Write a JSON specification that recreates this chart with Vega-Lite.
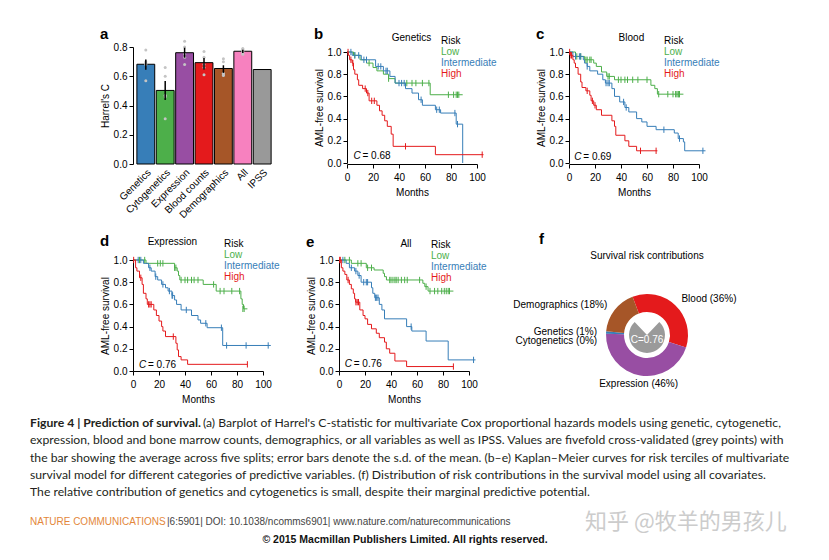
{
"$schema": "https://vega.github.io/schema/vega-lite/v6.json",
"background": "white",
"padding": {"left": 30, "top": 26, "right": 2, "bottom": 2},
"config": {
 "font": "Liberation Sans",
 "view": {"stroke": null},
 "axis": {"labelFontSize": 10, "titleFontSize": 10, "titleFontWeight": "normal", "labelColor": "#000", "titleColor": "#000", "domainColor": "#000", "tickColor": "#000", "grid": false, "tickSize": 4, "labelPadding": 2, "titlePadding": 3, "labelFont": "Liberation Sans", "titleFont": "Liberation Sans", "labelOverlap": false, "labelFlush": false},
 "title": {"fontSize": 15, "fontWeight": "bold", "anchor": "start", "frame": "bounds", "color": "#000", "offset": 0, "font": "Liberation Sans"},
 "text": {"color": "#000", "font": "Liberation Sans", "fontSize": 10}
},
"datasets": {
 "a_bars": [
  {"cat":"Genetics","c":0.682,"lo":0.645,"hi":0.714},
  {"cat":"Cytogenetics","c":0.503,"lo":0.437,"hi":0.567},
  {"cat":"Expression","c":0.761,"lo":0.727,"hi":0.795},
  {"cat":"Blood counts","c":0.693,"lo":0.646,"hi":0.725},
  {"cat":"Demographics","c":0.653,"lo":0.623,"hi":0.675},
  {"cat":"All","c":0.771,"lo":0.759,"hi":0.782},
  {"cat":"IPSS","c":0.646}
 ],
 "a_pts": [
  {"cat":"Genetics","v":0.78},{"cat":"Genetics","v":0.70},{"cat":"Genetics","v":0.69},{"cat":"Genetics","v":0.68},{"cat":"Genetics","v":0.57},
  {"cat":"Cytogenetics","v":0.66},{"cat":"Cytogenetics","v":0.60},{"cat":"Cytogenetics","v":0.47},{"cat":"Cytogenetics","v":0.46},{"cat":"Cytogenetics","v":0.31},
  {"cat":"Expression","v":0.84},{"cat":"Expression","v":0.80},{"cat":"Expression","v":0.75},{"cat":"Expression","v":0.73},{"cat":"Expression","v":0.68},
  {"cat":"Blood counts","v":0.77},{"cat":"Blood counts","v":0.73},{"cat":"Blood counts","v":0.68},{"cat":"Blood counts","v":0.66},{"cat":"Blood counts","v":0.61},
  {"cat":"Demographics","v":0.72},{"cat":"Demographics","v":0.70},{"cat":"Demographics","v":0.62},{"cat":"Demographics","v":0.61},{"cat":"Demographics","v":0.605},
  {"cat":"All","v":0.79},{"cat":"All","v":0.785},{"cat":"All","v":0.77},{"cat":"All","v":0.76},{"cat":"All","v":0.75}
 ],
 "b_line": [
  {"risk":"Low","t":0,"s":1},{"risk":"Low","t":5,"s":0.97},{"risk":"Low","t":10,"s":0.93},{"risk":"Low","t":15,"s":0.9},{"risk":"Low","t":20,"s":0.86},{"risk":"Low","t":23,"s":0.83},{"risk":"Low","t":28,"s":0.8},{"risk":"Low","t":32,"s":0.76},{"risk":"Low","t":37,"s":0.72},{"risk":"Low","t":64,"s":0.615},{"risk":"Low","t":89,"s":0.615},
  {"risk":"Intermediate","t":0,"s":1},{"risk":"Intermediate","t":4,"s":0.97},{"risk":"Intermediate","t":11,"s":0.93},{"risk":"Intermediate","t":22,"s":0.87},{"risk":"Intermediate","t":28,"s":0.83},{"risk":"Intermediate","t":33,"s":0.78},{"risk":"Intermediate","t":37,"s":0.72},{"risk":"Intermediate","t":45,"s":0.67},{"risk":"Intermediate","t":50,"s":0.63},{"risk":"Intermediate","t":55,"s":0.57},{"risk":"Intermediate","t":58,"s":0.52},{"risk":"Intermediate","t":68,"s":0.48},{"risk":"Intermediate","t":72,"s":0.45},{"risk":"Intermediate","t":84,"s":0.35},{"risk":"Intermediate","t":89,"s":0},
  {"risk":"High","t":0,"s":1},{"risk":"High","t":1,"s":0.97},{"risk":"High","t":2,"s":0.93},{"risk":"High","t":4,"s":0.9},{"risk":"High","t":5,"s":0.84},{"risk":"High","t":6,"s":0.8},{"risk":"High","t":8,"s":0.75},{"risk":"High","t":9,"s":0.7},{"risk":"High","t":12,"s":0.67},{"risk":"High","t":15,"s":0.63},{"risk":"High","t":17,"s":0.56},{"risk":"High","t":23,"s":0.52},{"risk":"High","t":25,"s":0.47},{"risk":"High","t":27,"s":0.43},{"risk":"High","t":29,"s":0.38},{"risk":"High","t":31,"s":0.33},{"risk":"High","t":34,"s":0.26},{"risk":"High","t":35.5,"s":0.15},{"risk":"High","t":68,"s":0.075},{"risk":"High","t":105,"s":0.075}
 ],
 "b_cens": [
  {"risk":"Low","t":6,"s":0.97},{"risk":"Low","t":17,"s":0.9},{"risk":"Low","t":32,"s":0.76},{"risk":"Low","t":46,"s":0.72},{"risk":"Low","t":50,"s":0.72},{"risk":"Low","t":53,"s":0.72},{"risk":"Low","t":58,"s":0.72},{"risk":"Low","t":63,"s":0.72},{"risk":"Low","t":78,"s":0.615},{"risk":"Low","t":82,"s":0.615},{"risk":"Low","t":84,"s":0.615},{"risk":"Low","t":85,"s":0.615},{"risk":"Low","t":86,"s":0.615},
  {"risk":"Intermediate","t":3,"s":1},{"risk":"Intermediate","t":6,"s":0.97},{"risk":"Intermediate","t":9,"s":0.97},{"risk":"Intermediate","t":13,"s":0.93},{"risk":"Intermediate","t":15,"s":0.93},{"risk":"Intermediate","t":24,"s":0.87},{"risk":"Intermediate","t":26,"s":0.87},{"risk":"Intermediate","t":30,"s":0.83},{"risk":"Intermediate","t":31,"s":0.83},{"risk":"Intermediate","t":40,"s":0.72},{"risk":"Intermediate","t":42,"s":0.72},{"risk":"Intermediate","t":44,"s":0.72},{"risk":"Intermediate","t":57,"s":0.57},{"risk":"Intermediate","t":69,"s":0.48},{"risk":"Intermediate","t":71,"s":0.48},{"risk":"Intermediate","t":83,"s":0.45},{"risk":"Intermediate","t":85,"s":0.35},
  {"risk":"High","t":0.8,"s":1},{"risk":"High","t":3,"s":0.93},{"risk":"High","t":4.5,"s":0.9},{"risk":"High","t":14,"s":0.67},{"risk":"High","t":16,"s":0.63},{"risk":"High","t":19,"s":0.56},{"risk":"High","t":21,"s":0.56},{"risk":"High","t":45,"s":0.15},{"risk":"High","t":104,"s":0.075}
 ],
 "c_line": [
  {"risk":"Low","t":0,"s":1},{"risk":"Low","t":5,"s":0.96},{"risk":"Low","t":12,"s":0.93},{"risk":"Low","t":19,"s":0.9},{"risk":"Low","t":21,"s":0.87},{"risk":"Low","t":25,"s":0.82},{"risk":"Low","t":29,"s":0.78},{"risk":"Low","t":35,"s":0.75},{"risk":"Low","t":63,"s":0.7},{"risk":"Low","t":66,"s":0.67},{"risk":"Low","t":68,"s":0.62},{"risk":"Low","t":88,"s":0.62},
  {"risk":"Intermediate","t":0,"s":1},{"risk":"Intermediate","t":3,"s":0.96},{"risk":"Intermediate","t":11,"s":0.93},{"risk":"Intermediate","t":12,"s":0.9},{"risk":"Intermediate","t":14,"s":0.87},{"risk":"Intermediate","t":16,"s":0.83},{"risk":"Intermediate","t":22,"s":0.8},{"risk":"Intermediate","t":26,"s":0.75},{"risk":"Intermediate","t":28,"s":0.72},{"risk":"Intermediate","t":33,"s":0.67},{"risk":"Intermediate","t":35,"s":0.6},{"risk":"Intermediate","t":39,"s":0.55},{"risk":"Intermediate","t":43,"s":0.5},{"risk":"Intermediate","t":46,"s":0.46},{"risk":"Intermediate","t":52,"s":0.4},{"risk":"Intermediate","t":56,"s":0.37},{"risk":"Intermediate","t":60,"s":0.33},{"risk":"Intermediate","t":67,"s":0.3},{"risk":"Intermediate","t":81,"s":0.27},{"risk":"Intermediate","t":84,"s":0.22},{"risk":"Intermediate","t":88,"s":0.19},{"risk":"Intermediate","t":89,"s":0.11},{"risk":"Intermediate","t":105,"s":0.11},
  {"risk":"High","t":0,"s":1},{"risk":"High","t":1,"s":0.97},{"risk":"High","t":3,"s":0.93},{"risk":"High","t":4,"s":0.9},{"risk":"High","t":5,"s":0.86},{"risk":"High","t":7,"s":0.8},{"risk":"High","t":9,"s":0.73},{"risk":"High","t":10,"s":0.68},{"risk":"High","t":13,"s":0.65},{"risk":"High","t":16,"s":0.61},{"risk":"High","t":17,"s":0.56},{"risk":"High","t":19,"s":0.52},{"risk":"High","t":21,"s":0.48},{"risk":"High","t":25,"s":0.43},{"risk":"High","t":33,"s":0.38},{"risk":"High","t":35,"s":0.33},{"risk":"High","t":36,"s":0.25},{"risk":"High","t":43,"s":0.2},{"risk":"High","t":46,"s":0.15},{"risk":"High","t":52,"s":0.11},{"risk":"High","t":68,"s":0.11}
 ],
 "c_cens": [
  {"risk":"Low","t":6,"s":0.96},{"risk":"Low","t":9,"s":0.96},{"risk":"Low","t":13,"s":0.93},{"risk":"Low","t":14,"s":0.93},{"risk":"Low","t":16,"s":0.93},{"risk":"Low","t":17,"s":0.93},{"risk":"Low","t":30,"s":0.78},{"risk":"Low","t":31,"s":0.78},{"risk":"Low","t":38,"s":0.75},{"risk":"Low","t":40,"s":0.75},{"risk":"Low","t":43,"s":0.75},{"risk":"Low","t":45,"s":0.75},{"risk":"Low","t":49,"s":0.75},{"risk":"Low","t":53,"s":0.75},{"risk":"Low","t":60,"s":0.75},{"risk":"Low","t":69,"s":0.62},{"risk":"Low","t":76,"s":0.62},{"risk":"Low","t":80,"s":0.62},{"risk":"Low","t":82,"s":0.62},{"risk":"Low","t":83,"s":0.62},{"risk":"Low","t":84,"s":0.62},{"risk":"Low","t":84.5,"s":0.62},{"risk":"Low","t":85,"s":0.62},
  {"risk":"Intermediate","t":5,"s":0.96},{"risk":"Intermediate","t":8,"s":0.96},{"risk":"Intermediate","t":9,"s":0.96},{"risk":"Intermediate","t":14,"s":0.87},{"risk":"Intermediate","t":28.5,"s":0.72},{"risk":"Intermediate","t":30,"s":0.72},{"risk":"Intermediate","t":31,"s":0.72},{"risk":"Intermediate","t":42,"s":0.55},{"risk":"Intermediate","t":44,"s":0.5},{"risk":"Intermediate","t":73,"s":0.3},{"risk":"Intermediate","t":85,"s":0.22},{"risk":"Intermediate","t":103,"s":0.11},
  {"risk":"High","t":0.5,"s":1},{"risk":"High","t":1.5,"s":0.97},{"risk":"High","t":2,"s":0.97},{"risk":"High","t":14,"s":0.65},{"risk":"High","t":18,"s":0.56},{"risk":"High","t":20,"s":0.52},{"risk":"High","t":55,"s":0.11},{"risk":"High","t":67,"s":0.11}
 ],
 "d_line": [
  {"risk":"Low","t":0,"s":1},{"risk":"Low","t":10,"s":0.97},{"risk":"Low","t":32,"s":0.93},{"risk":"Low","t":34,"s":0.9},{"risk":"Low","t":35,"s":0.86},{"risk":"Low","t":36,"s":0.82},{"risk":"Low","t":54,"s":0.78},{"risk":"Low","t":64,"s":0.72},{"risk":"Low","t":83,"s":0.65},{"risk":"Low","t":84,"s":0.6},{"risk":"Low","t":85,"s":0.56},{"risk":"Low","t":88,"s":0.56},
  {"risk":"Intermediate","t":0,"s":1},{"risk":"Intermediate","t":8,"s":0.97},{"risk":"Intermediate","t":12,"s":0.93},{"risk":"Intermediate","t":14,"s":0.9},{"risk":"Intermediate","t":17,"s":0.85},{"risk":"Intermediate","t":19,"s":0.82},{"risk":"Intermediate","t":22,"s":0.78},{"risk":"Intermediate","t":25,"s":0.75},{"risk":"Intermediate","t":27,"s":0.72},{"risk":"Intermediate","t":30,"s":0.68},{"risk":"Intermediate","t":32,"s":0.64},{"risk":"Intermediate","t":33.5,"s":0.6},{"risk":"Intermediate","t":37,"s":0.55},{"risk":"Intermediate","t":45,"s":0.5},{"risk":"Intermediate","t":50,"s":0.46},{"risk":"Intermediate","t":52,"s":0.43},{"risk":"Intermediate","t":57,"s":0.39},{"risk":"Intermediate","t":69,"s":0.23},{"risk":"Intermediate","t":106,"s":0.23},
  {"risk":"High","t":0,"s":1},{"risk":"High","t":2,"s":0.93},{"risk":"High","t":3,"s":0.9},{"risk":"High","t":5,"s":0.84},{"risk":"High","t":7,"s":0.78},{"risk":"High","t":8,"s":0.7},{"risk":"High","t":10,"s":0.65},{"risk":"High","t":11,"s":0.6},{"risk":"High","t":16,"s":0.55},{"risk":"High","t":18,"s":0.5},{"risk":"High","t":20,"s":0.45},{"risk":"High","t":22,"s":0.4},{"risk":"High","t":23,"s":0.36},{"risk":"High","t":25,"s":0.31},{"risk":"High","t":33,"s":0.25},{"risk":"High","t":34,"s":0.19},{"risk":"High","t":35,"s":0.13},{"risk":"High","t":37,"s":0.1},{"risk":"High","t":42,"s":0.06},{"risk":"High","t":88,"s":0.06}
 ],
 "d_cens": [
  {"risk":"Low","t":5,"s":1},{"risk":"Low","t":9,"s":1},{"risk":"Low","t":19,"s":0.97},{"risk":"Low","t":21,"s":0.97},{"risk":"Low","t":23,"s":0.97},{"risk":"Low","t":32,"s":0.93},{"risk":"Low","t":33,"s":0.93},{"risk":"Low","t":37,"s":0.82},{"risk":"Low","t":40,"s":0.82},{"risk":"Low","t":42,"s":0.82},{"risk":"Low","t":45,"s":0.82},{"risk":"Low","t":47,"s":0.82},{"risk":"Low","t":50,"s":0.82},{"risk":"Low","t":62,"s":0.78},{"risk":"Low","t":67,"s":0.72},{"risk":"Low","t":70,"s":0.72},{"risk":"Low","t":76,"s":0.72},{"risk":"Low","t":82,"s":0.72},{"risk":"Low","t":84.5,"s":0.56},{"risk":"Low","t":85.5,"s":0.56},
  {"risk":"Intermediate","t":4,"s":1},{"risk":"Intermediate","t":6,"s":1},{"risk":"Intermediate","t":13,"s":0.93},{"risk":"Intermediate","t":17.5,"s":0.85},{"risk":"Intermediate","t":23,"s":0.78},{"risk":"Intermediate","t":28,"s":0.72},{"risk":"Intermediate","t":30,"s":0.68},{"risk":"Intermediate","t":30.5,"s":0.68},{"risk":"Intermediate","t":41,"s":0.55},{"risk":"Intermediate","t":56,"s":0.43},{"risk":"Intermediate","t":68,"s":0.39},{"risk":"Intermediate","t":72,"s":0.23},{"risk":"Intermediate","t":87,"s":0.23},{"risk":"Intermediate","t":104,"s":0.23},
  {"risk":"High","t":0.5,"s":1},{"risk":"High","t":6,"s":0.84},{"risk":"High","t":12,"s":0.6},{"risk":"High","t":13,"s":0.6},{"risk":"High","t":14,"s":0.6},{"risk":"High","t":31,"s":0.31},{"risk":"High","t":88,"s":0.06}
 ],
 "e_line": [
  {"risk":"Low","t":0,"s":1},{"risk":"Low","t":9.5,"s":0.97},{"risk":"Low","t":21,"s":0.93},{"risk":"Low","t":27,"s":0.91},{"risk":"Low","t":34,"s":0.88},{"risk":"Low","t":35,"s":0.85},{"risk":"Low","t":36.5,"s":0.82},{"risk":"Low","t":64.5,"s":0.79},{"risk":"Low","t":66,"s":0.76},{"risk":"Low","t":68.5,"s":0.72},{"risk":"Low","t":88,"s":0.72},
  {"risk":"Intermediate","t":0,"s":1},{"risk":"Intermediate","t":5.5,"s":0.97},{"risk":"Intermediate","t":8,"s":0.93},{"risk":"Intermediate","t":12,"s":0.9},{"risk":"Intermediate","t":14.5,"s":0.86},{"risk":"Intermediate","t":17,"s":0.8},{"risk":"Intermediate","t":25,"s":0.75},{"risk":"Intermediate","t":26,"s":0.7},{"risk":"Intermediate","t":27.5,"s":0.66},{"risk":"Intermediate","t":31,"s":0.6},{"risk":"Intermediate","t":33,"s":0.55},{"risk":"Intermediate","t":35,"s":0.47},{"risk":"Intermediate","t":52,"s":0.4},{"risk":"Intermediate","t":56,"s":0.36},{"risk":"Intermediate","t":67,"s":0.27},{"risk":"Intermediate","t":84,"s":0.1},{"risk":"Intermediate","t":105,"s":0.1},
  {"risk":"High","t":0,"s":1},{"risk":"High","t":1.8,"s":0.93},{"risk":"High","t":3,"s":0.9},{"risk":"High","t":4.5,"s":0.87},{"risk":"High","t":6,"s":0.82},{"risk":"High","t":8,"s":0.78},{"risk":"High","t":9.5,"s":0.74},{"risk":"High","t":11,"s":0.7},{"risk":"High","t":12,"s":0.65},{"risk":"High","t":12.8,"s":0.62},{"risk":"High","t":16,"s":0.55},{"risk":"High","t":18.5,"s":0.5},{"risk":"High","t":20,"s":0.47},{"risk":"High","t":22,"s":0.42},{"risk":"High","t":25,"s":0.38},{"risk":"High","t":28.7,"s":0.34},{"risk":"High","t":31,"s":0.3},{"risk":"High","t":35,"s":0.26},{"risk":"High","t":36.4,"s":0.2},{"risk":"High","t":39,"s":0.16},{"risk":"High","t":43,"s":0.09},{"risk":"High","t":52,"s":0.04},{"risk":"High","t":88,"s":0.04}
 ],
 "e_cens": [
  {"risk":"Low","t":4.5,"s":1},{"risk":"Low","t":8,"s":1},{"risk":"Low","t":14.5,"s":0.97},{"risk":"Low","t":17,"s":0.97},{"risk":"Low","t":22,"s":0.93},{"risk":"Low","t":25,"s":0.93},{"risk":"Low","t":39,"s":0.82},{"risk":"Low","t":40,"s":0.82},{"risk":"Low","t":41.5,"s":0.82},{"risk":"Low","t":43,"s":0.82},{"risk":"Low","t":44,"s":0.82},{"risk":"Low","t":45.5,"s":0.82},{"risk":"Low","t":48,"s":0.82},{"risk":"Low","t":50.5,"s":0.82},{"risk":"Low","t":52.5,"s":0.82},{"risk":"Low","t":62,"s":0.82},{"risk":"Low","t":67,"s":0.76},{"risk":"Low","t":70,"s":0.72},{"risk":"Low","t":73.5,"s":0.72},{"risk":"Low","t":76,"s":0.72},{"risk":"Low","t":79,"s":0.72},{"risk":"Low","t":81,"s":0.72},{"risk":"Low","t":82.5,"s":0.72},{"risk":"Low","t":84,"s":0.72},{"risk":"Low","t":85,"s":0.72},
  {"risk":"Intermediate","t":3,"s":1},{"risk":"Intermediate","t":9.5,"s":0.93},{"risk":"Intermediate","t":13,"s":0.9},{"risk":"Intermediate","t":15.5,"s":0.86},{"risk":"Intermediate","t":19,"s":0.8},{"risk":"Intermediate","t":21,"s":0.8},{"risk":"Intermediate","t":22,"s":0.8},{"risk":"Intermediate","t":28,"s":0.66},{"risk":"Intermediate","t":29,"s":0.66},{"risk":"Intermediate","t":30,"s":0.66},{"risk":"Intermediate","t":55.5,"s":0.4},{"risk":"Intermediate","t":103.5,"s":0.1},
  {"risk":"High","t":0.5,"s":1},{"risk":"High","t":1,"s":1},{"risk":"High","t":7,"s":0.82},{"risk":"High","t":13,"s":0.62},{"risk":"High","t":14,"s":0.62},{"risk":"High","t":15,"s":0.62},{"risk":"High","t":88,"s":0.04}
 ],
 "f_contrib": [
  {"k":"Blood","v":36,"o":1,"lab":"Blood (36%)"},
  {"k":"Expression","v":46,"o":2,"lab":"Expression (46%)"},
  {"k":"Genetics","v":1,"o":3,"lab":"Genetics (1%)"},
  {"k":"Cytogenetics","v":0,"o":4,"lab":"Cytogenetics (0%)"},
  {"k":"Demographics","v":18,"o":5,"lab":"Demographics (18%)"}
 ],
 "f_c": [{"p":"C","v":0.76,"o":1},{"p":"rest","v":0.24,"o":2}],
 "cap": [
  {"line":"1","kind":"bold","text":"Figure 4 | Prediction of survival."},
  {"line":"1","kind":"cap1","text":"(a) Barplot of Harrel's C-statistic for multivariate Cox proportional hazards models using genetic, cytogenetic,"},
  {"line":"2","kind":"cap","text":"expression, blood and bone marrow counts, demographics, or all variables as well as IPSS. Values are fivefold cross-validated (grey points) with"},
  {"line":"3","kind":"cap","text":"the bar showing the average across five splits; error bars denote the s.d. of the mean. (b–e) Kaplan–Meier curves for risk terciles of multivariate"},
  {"line":"4","kind":"cap","text":"survival model for different categories of predictive variables. (f) Distribution of risk contributions in the survival model using all covariates."},
  {"line":"5","kind":"cap","text":"The relative contribution of genetics and cytogenetics is small, despite their marginal predictive potential."},
  {"line":"7","kind":"nc","text":"NATURE COMMUNICATIONS"},
  {"line":"7","kind":"ref","text":"|6:5901| DOI: 10.1038/ncomms6901| www.nature.com/naturecommunications"},
  {"line":"7","kind":"wm","text":"知乎 @牧羊的男孩儿"},
  {"line":"8","kind":"copy","text":"© 2015 Macmillan Publishers Limited. All rights reserved."}
 ]
},
"spacing": 7,
"resolve": {"scale": {"color": "independent"}, "legend": {"color": "independent"}},
"vconcat": [
 {
 "spacing": 12,
 "resolve": {"scale": {"color": "independent"}, "legend": {"color": "independent"}},
 "vconcat": [
 {
  "hconcat": [
   {
    "width": 142, "height": 117,
    "title": {"text": "a", "dy": 6.5},
    "layer": [
     {"data": {"name": "a_bars"}, "mark": {"type": "bar", "stroke": "#000", "strokeWidth": 1},
      "encoding": {
       "x": {"field": "cat", "type": "nominal", "scale": {"domain": ["Genetics","Cytogenetics","Expression","Blood counts","Demographics","All","IPSS"], "paddingInner": 0.08, "paddingOuter": 0.2}, "axis": {"title": null, "labelAngle": -45, "labelAlign": "right", "labelBaseline": "top", "domain": false, "ticks": false, "labelPadding": 3, "labelOverlap": false}},
       "y": {"field": "c", "type": "quantitative", "scale": {"domain": [0, 0.8], "nice": false}, "axis": {"values": [0,0.2,0.4,0.6,0.8], "tickCount": 20, "format": ".1f", "title": "Harrel's C", "labelOverlap": false}},
       "color": {"field": "cat", "type": "nominal", "scale": {"domain": ["Genetics","Cytogenetics","Expression","Blood counts","Demographics","All","IPSS"], "range": ["#377eb8","#4daf4a","#984ea3","#e41a1c","#a65628","#f781bf","#999999"]}, "legend": null}
      }},
     {"data": {"name": "a_pts"}, "mark": {"type": "circle", "size": 9, "color": "#c4c4c4", "opacity": 1},
      "encoding": {"x": {"field": "cat", "type": "nominal"}, "y": {"field": "v", "type": "quantitative"}}},
     {"data": {"name": "a_bars"}, "mark": {"type": "rule", "strokeWidth": 1.5, "color": "#000"},
      "encoding": {"x": {"field": "cat", "type": "nominal"}, "y": {"field": "lo", "type": "quantitative"}, "y2": {"field": "hi"}}}
    ]
   },
   {
    "width": 130, "height": 117,
    "title": {"text": "b", "dy": 12.5},
    "layer": [
     {"data": {"name": "b_line"}, "mark": {"type": "line", "interpolate": "step-after", "strokeWidth": 1},
      "encoding": {
       "x": {"field": "t", "type": "quantitative", "scale": {"domain": [0, 100], "nice": false}, "axis": {"values": [0,20,40,60,80,100], "tickCount": 20, "title": "Months", "labelPadding": 4, "titlePadding": 5, "labelOverlap": false}},
       "y": {"field": "s", "type": "quantitative", "scale": {"domain": [0, 1], "nice": false, "range": [116, 5]}, "axis": {"values": [0,0.2,0.4,0.6,0.8,1], "tickCount": 20, "format": ".1f", "title": "AML-free survival", "labelOverlap": false}},
       "color": {"field": "risk", "type": "nominal", "scale": {"domain": ["Low","Intermediate","High"], "range": ["#4daf4a","#377eb8","#e41a1c"]},
        "legend": {"title": "Risk", "orient": "none", "legendX": 94, "legendY": -11, "symbolSize": 0, "symbolStrokeWidth": 0, "symbolOpacity": 0, "labelOffset": -10, "titleFontSize": 10, "titleFontWeight": "normal", "titleColor": "#000", "labelFontSize": 10, "rowPadding": 1, "titlePadding": 1, "padding": 0, "labelLimit": 200, "encode": {"labels": {"update": {"fill": {"signal": "datum.value === 'Low' ? '#4daf4a' : datum.value === 'High' ? '#e41a1c' : '#377eb8'"}}}}}}
      }},
     {"data": {"name": "b_cens"}, "mark": {"type": "point", "shape": "M0,-1L0,1", "size": 40, "filled": false, "strokeWidth": 1, "opacity": 1},
      "encoding": {"x": {"field": "t", "type": "quantitative"}, "y": {"field": "s", "type": "quantitative"}, "stroke": {"field": "risk", "type": "nominal", "scale": {"domain": ["Low","Intermediate","High"], "range": ["#4daf4a","#377eb8","#e41a1c"]}, "legend": null}}},
     {"data": {"values": [{}]}, "mark": {"type": "text", "align": "center", "baseline": "middle"}, "encoding": {"x": {"datum": 49.6}, "y": {"datum": 1.126}, "text": {"value": "Genetics"}}},
     {"data": {"values": [{}]}, "mark": {"type": "text", "fontStyle": "italic", "align": "left", "baseline": "middle"}, "encoding": {"x": {"datum": 5}, "y": {"datum": 0.06}, "text": {"value": "C"}}},
     {"data": {"values": [{}]}, "mark": {"type": "text", "align": "left", "baseline": "middle", "dx": 9}, "encoding": {"x": {"datum": 5}, "y": {"datum": 0.06}, "text": {"value": "= 0.68"}}}
    ]
   },
   {
    "width": 130, "height": 117,
    "title": {"text": "c", "dy": 12.5},
    "layer": [
     {"data": {"name": "c_line"}, "mark": {"type": "line", "interpolate": "step-after", "strokeWidth": 1},
      "encoding": {
       "x": {"field": "t", "type": "quantitative", "scale": {"domain": [0, 100], "nice": false}, "axis": {"values": [0,20,40,60,80,100], "tickCount": 20, "title": "Months", "labelPadding": 4, "titlePadding": 5, "labelOverlap": false}},
       "y": {"field": "s", "type": "quantitative", "scale": {"domain": [0, 1], "nice": false, "range": [116, 5]}, "axis": {"values": [0,0.2,0.4,0.6,0.8,1], "tickCount": 20, "format": ".1f", "title": "AML-free survival", "labelOverlap": false}},
       "color": {"field": "risk", "type": "nominal", "scale": {"domain": ["Low","Intermediate","High"], "range": ["#4daf4a","#377eb8","#e41a1c"]},
        "legend": {"title": "Risk", "orient": "none", "legendX": 95, "legendY": -11, "symbolSize": 0, "symbolStrokeWidth": 0, "symbolOpacity": 0, "labelOffset": -10, "titleFontSize": 10, "titleFontWeight": "normal", "titleColor": "#000", "labelFontSize": 10, "rowPadding": 1, "titlePadding": 1, "padding": 0, "labelLimit": 200, "encode": {"labels": {"update": {"fill": {"signal": "datum.value === 'Low' ? '#4daf4a' : datum.value === 'High' ? '#e41a1c' : '#377eb8'"}}}}}}
      }},
     {"data": {"name": "c_cens"}, "mark": {"type": "point", "shape": "M0,-1L0,1", "size": 40, "filled": false, "strokeWidth": 1, "opacity": 1},
      "encoding": {"x": {"field": "t", "type": "quantitative"}, "y": {"field": "s", "type": "quantitative"}, "stroke": {"field": "risk", "type": "nominal", "scale": {"domain": ["Low","Intermediate","High"], "range": ["#4daf4a","#377eb8","#e41a1c"]}, "legend": null}}},
     {"data": {"values": [{}]}, "mark": {"type": "text", "align": "center", "baseline": "middle"}, "encoding": {"x": {"datum": 48}, "y": {"datum": 1.126}, "text": {"value": "Blood"}}},
     {"data": {"values": [{}]}, "mark": {"type": "text", "fontStyle": "italic", "align": "left", "baseline": "middle"}, "encoding": {"x": {"datum": 4.1}, "y": {"datum": 0.054}, "text": {"value": "C"}}},
     {"data": {"values": [{}]}, "mark": {"type": "text", "align": "left", "baseline": "middle", "dx": 9}, "encoding": {"x": {"datum": 4.1}, "y": {"datum": 0.054}, "text": {"value": "= 0.69"}}}
    ]
   }
  ],
  "spacing": 39,
  "resolve": {"scale": {"color": "independent"}, "legend": {"color": "independent"}}
 },
 {
  "hconcat": [
   {
    "width": 130, "height": 111,
    "title": {"text": "d", "dy": 16},
    "layer": [
     {"data": {"name": "d_line"}, "mark": {"type": "line", "interpolate": "step-after", "strokeWidth": 1},
      "encoding": {
       "x": {"field": "t", "type": "quantitative", "scale": {"domain": [0, 100], "nice": false}, "axis": {"values": [0,20,40,60,80,100], "tickCount": 20, "title": "Months", "labelPadding": 4, "titlePadding": 5, "labelOverlap": false}},
       "y": {"field": "s", "type": "quantitative", "scale": {"domain": [0, 1], "nice": false}, "axis": {"values": [0,0.2,0.4,0.6,0.8,1], "tickCount": 20, "format": ".1f", "title": "AML-free survival", "labelOverlap": false}},
       "color": {"field": "risk", "type": "nominal", "scale": {"domain": ["Low","Intermediate","High"], "range": ["#4daf4a","#377eb8","#e41a1c"]},
        "legend": {"title": "Risk", "orient": "none", "legendX": 91, "legendY": -21, "symbolSize": 0, "symbolStrokeWidth": 0, "symbolOpacity": 0, "labelOffset": -10, "titleFontSize": 10, "titleFontWeight": "normal", "titleColor": "#000", "labelFontSize": 10, "rowPadding": 1, "titlePadding": 1, "padding": 0, "labelLimit": 200, "encode": {"labels": {"update": {"fill": {"signal": "datum.value === 'Low' ? '#4daf4a' : datum.value === 'High' ? '#e41a1c' : '#377eb8'"}}}}}}
      }},
     {"data": {"name": "d_cens"}, "mark": {"type": "point", "shape": "M0,-1L0,1", "size": 40, "filled": false, "strokeWidth": 1, "opacity": 1},
      "encoding": {"x": {"field": "t", "type": "quantitative"}, "y": {"field": "s", "type": "quantitative"}, "stroke": {"field": "risk", "type": "nominal", "scale": {"domain": ["Low","Intermediate","High"], "range": ["#4daf4a","#377eb8","#e41a1c"]}, "legend": null}}},
     {"data": {"values": [{}]}, "mark": {"type": "text", "align": "center", "baseline": "middle"}, "encoding": {"x": {"datum": 30.3}, "y": {"datum": 1.16}, "text": {"value": "Expression"}}},
     {"data": {"values": [{}]}, "mark": {"type": "text", "fontStyle": "italic", "align": "left", "baseline": "middle"}, "encoding": {"x": {"datum": 4.6}, "y": {"datum": 0.054}, "text": {"value": "C"}}},
     {"data": {"values": [{}]}, "mark": {"type": "text", "align": "left", "baseline": "middle", "dx": 9}, "encoding": {"x": {"datum": 4.6}, "y": {"datum": 0.054}, "text": {"value": "= 0.76"}}}
    ]
   },
   {
    "width": 130, "height": 111,
    "title": {"text": "e", "dy": 14.7},
    "layer": [
     {"data": {"name": "e_line"}, "mark": {"type": "line", "interpolate": "step-after", "strokeWidth": 1},
      "encoding": {
       "x": {"field": "t", "type": "quantitative", "scale": {"domain": [0, 100], "nice": false}, "axis": {"values": [0,20,40,60,80,100], "tickCount": 20, "title": "Months", "labelPadding": 4, "titlePadding": 5, "labelOverlap": false}},
       "y": {"field": "s", "type": "quantitative", "scale": {"domain": [0, 1], "nice": false}, "axis": {"values": [0,0.2,0.4,0.6,0.8,1], "tickCount": 20, "format": ".1f", "title": "AML-free survival", "labelOverlap": false}},
       "color": {"field": "risk", "type": "nominal", "scale": {"domain": ["Low","Intermediate","High"], "range": ["#4daf4a","#377eb8","#e41a1c"]},
        "legend": {"title": "Risk", "orient": "none", "legendX": 92, "legendY": -20, "symbolSize": 0, "symbolStrokeWidth": 0, "symbolOpacity": 0, "labelOffset": -10, "titleFontSize": 10, "titleFontWeight": "normal", "titleColor": "#000", "labelFontSize": 10, "rowPadding": 1, "titlePadding": 1, "padding": 0, "labelLimit": 200, "encode": {"labels": {"update": {"fill": {"signal": "datum.value === 'Low' ? '#4daf4a' : datum.value === 'High' ? '#e41a1c' : '#377eb8'"}}}}}}
      }},
     {"data": {"name": "e_cens"}, "mark": {"type": "point", "shape": "M0,-1L0,1", "size": 40, "filled": false, "strokeWidth": 1, "opacity": 1},
      "encoding": {"x": {"field": "t", "type": "quantitative"}, "y": {"field": "s", "type": "quantitative"}, "stroke": {"field": "risk", "type": "nominal", "scale": {"domain": ["Low","Intermediate","High"], "range": ["#4daf4a","#377eb8","#e41a1c"]}, "legend": null}}},
     {"data": {"values": [{}]}, "mark": {"type": "text", "align": "center", "baseline": "middle"}, "encoding": {"x": {"datum": 51.5}, "y": {"datum": 1.143}, "text": {"value": "All"}}},
     {"data": {"values": [{}]}, "mark": {"type": "text", "fontStyle": "italic", "align": "left", "baseline": "middle"}, "encoding": {"x": {"datum": 4.4}, "y": {"datum": 0.06}, "text": {"value": "C"}}},
     {"data": {"values": [{}]}, "mark": {"type": "text", "align": "left", "baseline": "middle", "dx": 9}, "encoding": {"x": {"datum": 4.4}, "y": {"datum": 0.06}, "text": {"value": "= 0.76"}}}
    ]
   },
   {
    "width": 200, "height": 150,
    "title": {"text": "f", "frame": "group", "dx": -8},
    "resolve": {"scale": {"theta": "independent"}},
    "layer": [
     {"data": {"name": "f_contrib"}, "mark": {"type": "arc", "outerRadius": 41, "innerRadius": 23},
      "encoding": {
       "theta": {"field": "v", "type": "quantitative", "stack": true, "scale": {"range": [-0.36, 5.9232]}},
       "order": {"field": "o", "type": "quantitative"},
       "color": {"field": "k", "type": "nominal", "scale": {"domain": ["Blood","Expression","Genetics","Cytogenetics","Demographics"], "range": ["#e41a1c","#984ea3","#377eb8","#4daf4a","#a65628"]}, "legend": null}
      }},
     {"data": {"name": "f_c"}, "mark": {"type": "arc", "outerRadius": 18},
      "encoding": {
       "theta": {"field": "v", "type": "quantitative", "stack": true, "scale": {"range": [0.754, 7.037]}},
       "order": {"field": "o", "type": "quantitative"},
       "fill": {"condition": {"test": "datum.p === 'C'", "value": "#9a9a9a"}, "value": "transparent"}
      }},
     {"data": {"values": [{}]}, "mark": {"type": "text", "fontSize": 10, "color": "#ffffff", "align": "center", "baseline": "middle", "dy": 5}, "encoding": {"text": {"value": "C=0.76"}}},
     {"data": {"values": [{}]}, "mark": {"type": "text", "fontSize": 10, "align": "center", "baseline": "middle", "radius": 79, "theta": 0}, "encoding": {"text": {"value": "Survival risk contributions"}}},
     {"data": {"name": "f_contrib"}, "mark": {"type": "text", "fontSize": 10, "align": "left", "baseline": "middle", "radius": 50},
      "encoding": {"theta": {"field": "v", "type": "quantitative", "stack": true, "scale": {"range": [-0.36, 5.9232]}}, "order": {"field": "o", "type": "quantitative"}, "text": {"condition": {"test": "datum.k === 'Blood'", "field": "lab"}, "value": ""}}},
     {"data": {"name": "f_contrib"}, "mark": {"type": "text", "fontSize": 10, "align": "center", "baseline": "middle", "radius": 50},
      "encoding": {"theta": {"field": "v", "type": "quantitative", "stack": true, "scale": {"range": [-0.36, 5.9232]}}, "order": {"field": "o", "type": "quantitative"}, "text": {"condition": {"test": "datum.k === 'Expression'", "field": "lab"}, "value": ""}}},
     {"data": {"name": "f_contrib"}, "mark": {"type": "text", "fontSize": 10, "align": "right", "baseline": "middle", "radius": 50},
      "encoding": {"theta": {"field": "v", "type": "quantitative", "stack": true, "scale": {"range": [-0.36, 5.9232]}}, "order": {"field": "o", "type": "quantitative"}, "text": {"condition": {"test": "datum.k === 'Demographics' || datum.k === 'Genetics'", "field": "lab"}, "value": ""}}},
     {"data": {"name": "f_contrib"}, "mark": {"type": "text", "fontSize": 10, "align": "right", "baseline": "middle", "radius": 50, "dy": 11},
      "encoding": {"theta": {"field": "v", "type": "quantitative", "stack": true, "scale": {"range": [-0.36, 5.9232]}}, "order": {"field": "o", "type": "quantitative"}, "text": {"condition": {"test": "datum.k === 'Cytogenetics'", "field": "lab"}, "value": ""}}}
    ]
   }
  ],
  "spacing": 26,
  "resolve": {"scale": {"color": "independent"}, "legend": {"color": "independent"}}
 }
 ]
 },
 {
  "width": 700, "height": 120,
  "data": {"name": "cap"},
  "resolve": {"scale": {"y": "independent"}},
  "encoding": {
   "x": {"datum": 0, "type": "quantitative", "scale": {"domain": [0, 1]}, "axis": null},
   "text": {"field": "text"}
  },
  "layer": [
   {"transform": [{"filter": "datum.kind === 'bold'"}], "mark": {"type": "text", "align": "left", "baseline": "middle", "font": "Lato", "fontSize": 12.2, "fontWeight": "bold", "dx": -103, "color": "#231f20"},
    "encoding": {"y": {"field": "line", "type": "ordinal", "scale": {"type": "point", "domain": ["1","2","3","4","5"], "range": [0, 69], "padding": 0}, "axis": null}}},
   {"transform": [{"filter": "datum.kind === 'cap1'"}], "mark": {"type": "text", "align": "left", "baseline": "middle", "font": "Lato", "fontSize": 12.2, "dx": 70, "color": "#231f20"},
    "encoding": {"y": {"field": "line", "type": "ordinal", "scale": {"type": "point", "domain": ["1","2","3","4","5"], "range": [0, 69], "padding": 0}, "axis": null}}},
   {"transform": [{"filter": "datum.kind === 'cap'"}], "mark": {"type": "text", "align": "left", "baseline": "middle", "font": "Lato", "fontSize": 12.2, "dx": -103, "color": "#231f20"},
    "encoding": {"y": {"field": "line", "type": "ordinal", "scale": {"type": "point", "domain": ["1","2","3","4","5"], "range": [0, 69], "padding": 0}, "axis": null}}},
   {"transform": [{"filter": "datum.kind === 'nc'"}], "mark": {"type": "text", "align": "left", "baseline": "middle", "font": "Liberation Sans", "fontSize": 10, "dx": -103, "color": "#e3873a"},
    "encoding": {"y": {"field": "line", "type": "ordinal", "scale": {"type": "point", "domain": ["7","8"], "range": [99, 117], "padding": 0}, "axis": null}}},
   {"transform": [{"filter": "datum.kind === 'ref'"}], "mark": {"type": "text", "align": "left", "baseline": "middle", "font": "Liberation Sans", "fontSize": 10, "dx": 34, "color": "#444444"},
    "encoding": {"y": {"field": "line", "type": "ordinal", "scale": {"type": "point", "domain": ["7","8"], "range": [99, 117], "padding": 0}, "axis": null}}},
   {"transform": [{"filter": "datum.kind === 'copy'"}], "mark": {"type": "text", "align": "center", "baseline": "middle", "font": "Liberation Sans", "fontSize": 10.5, "fontWeight": "bold", "dx": 272, "color": "#111111"},
    "encoding": {"y": {"field": "line", "type": "ordinal", "scale": {"type": "point", "domain": ["7","8"], "range": [99, 117], "padding": 0}, "axis": null}}},
   {"transform": [{"filter": "datum.kind === 'wm'"}], "mark": {"type": "text", "align": "left", "baseline": "middle", "font": "Noto Sans CJK SC", "fontSize": 22, "dx": 452, "color": "#cccccc"},
    "encoding": {"y": {"field": "line", "type": "ordinal", "scale": {"type": "point", "domain": ["7","8"], "range": [99, 117], "padding": 0}, "axis": null}}}
  ]
 }
]
}
